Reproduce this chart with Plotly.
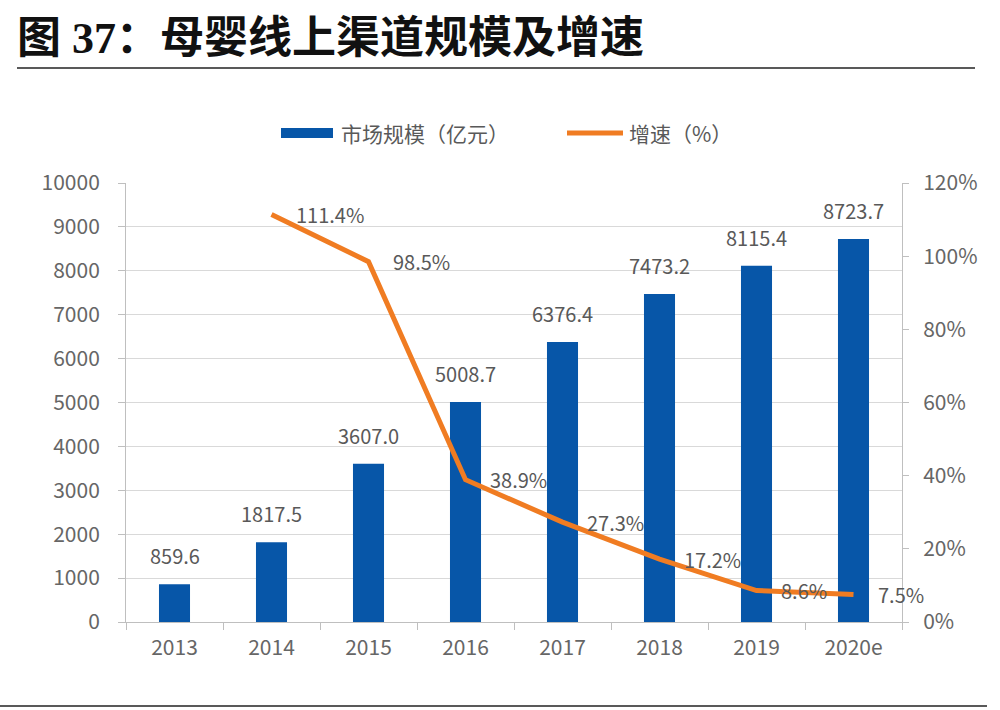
import plotly.graph_objects as go

years = ["2013", "2014", "2015", "2016", "2017", "2018", "2019", "2020e"]
market_size = [859.6, 1817.5, 3607.0, 5008.7, 6376.4, 7473.2, 8115.4, 8723.7]
growth = [None, 111.4, 98.5, 38.9, 27.3, 17.2, 8.6, 7.5]
size_labels = ["859.6", "1817.5", "3607.0", "5008.7", "6376.4", "7473.2", "8115.4", "8723.7"]
growth_labels = [None, "111.4%", "98.5%", "38.9%", "27.3%", "17.2%", "8.6%", "7.5%"]
left_ticks = list(range(0, 10001, 1000))
right_ticks = list(range(0, 121, 20))
right_tick_text = [f"{v}%" for v in right_ticks]

title_text = "图 37：母婴线上渠道规模及增速"
legend_bar = "市场规模（亿元）"
legend_line = "增速（%）"

BLUE = "#0756A8"
ORANGE = "#F07C22"
GRAY_TEXT = "#666666"
LABEL_TEXT = "#595959"
FONT = "Noto Sans CJK SC"

W, H = 1000, 710
L, R, T, B = 126, 902, 183, 622

idx = list(range(len(years)))
boundaries = [i - 0.5 for i in range(len(years) + 1)]


def px(x):
    return (x - L) / (R - L)


def py(y):
    return (B - y) / (B - T)


fig = go.Figure()
fig.add_trace(go.Bar(
    x=idx, y=market_size, marker=dict(color=BLUE, line=dict(width=0)),
    width=0.32, showlegend=False, hoverinfo="skip", yaxis="y"))
fig.add_trace(go.Scatter(
    x=idx, y=growth, mode="lines", line=dict(color=ORANGE, width=5),
    showlegend=False, yaxis="y2", connectgaps=False, hoverinfo="skip"))

annotations = []
for i, v, t in zip(idx, market_size, size_labels):
    annotations.append(dict(x=i, y=v, xref="x", yref="y", text=t, showarrow=False,
                            yanchor="bottom", xanchor="center", yshift=12,
                            font=dict(family=FONT, size=20, color=LABEL_TEXT)))
for i, v, t in zip(idx, growth, growth_labels):
    if v is None:
        continue
    annotations.append(dict(x=i, y=v, xref="x", yref="y2", text=t, showarrow=False,
                            yanchor="middle", xanchor="left", xshift=22,
                            font=dict(family=FONT, size=20, color=LABEL_TEXT)))

# title
annotations.append(dict(x=px(15), y=py(38), xref="paper", yref="paper", text=title_text,
                        showarrow=False, xanchor="left", yanchor="middle",
                        font=dict(family="Liberation Serif, Noto Sans CJK SC", size=44,
                                  color="#111111", weight="bold")))
# legend texts
annotations.append(dict(x=px(339), y=py(133), xref="paper", yref="paper", text=legend_bar,
                        showarrow=False, xanchor="left", yanchor="middle",
                        font=dict(family=FONT, size=21, color=LABEL_TEXT)))
annotations.append(dict(x=px(627), y=py(133), xref="paper", yref="paper", text=legend_line,
                        showarrow=False, xanchor="left", yanchor="middle",
                        font=dict(family=FONT, size=21, color=LABEL_TEXT)))

shapes = [
    dict(type="line", xref="paper", yref="paper", x0=px(17), x1=px(975), y0=py(68), y1=py(68),
         line=dict(color="#222222", width=1.5)),
    dict(type="line", xref="paper", yref="paper", x0=px(0), x1=px(987), y0=py(706), y1=py(706),
         line=dict(color="#222222", width=1.5)),
    dict(type="rect", xref="paper", yref="paper", x0=px(281), x1=px(333), y0=py(128), y1=py(138),
         fillcolor=BLUE, line=dict(width=0)),
    dict(type="line", xref="paper", yref="paper", x0=px(567), x1=px(623), y0=py(133), y1=py(133),
         line=dict(color=ORANGE, width=5)),
]

fig.update_layout(
    width=W, height=H,
    margin=dict(l=L, r=W - R, t=T, b=H - B, pad=0),
    paper_bgcolor="white", plot_bgcolor="white",
    annotations=annotations, shapes=shapes,
    xaxis=dict(range=[-0.5, len(years) - 0.5], autorange=False, tickvals=idx, ticktext=years,
               showline=True, linecolor="#BFBFBF", linewidth=1, ticks="", showgrid=False,
               zeroline=False,
               minor=dict(tickvals=boundaries, ticks="outside", ticklen=7, tickcolor="#BFBFBF",
                          showgrid=False),
               tickfont=dict(family=FONT, size=21, color=GRAY_TEXT), ticklabelstandoff=7),
    yaxis=dict(range=[0, 10000], autorange=False, tickvals=left_ticks, tickformat="d",
               showgrid=True, gridcolor="#D9D9D9",
               gridwidth=1, showline=True, linecolor="#BFBFBF", linewidth=1,
               ticks="outside", ticklen=7, tickcolor="#BFBFBF", zeroline=False,
               tickfont=dict(family=FONT, size=21, color=GRAY_TEXT), ticklabelstandoff=14),
    yaxis2=dict(range=[0, 120], autorange=False, overlaying="y", side="right",
                tickvals=right_ticks, ticktext=right_tick_text, showgrid=False, showline=True,
                linecolor="#BFBFBF", linewidth=1, ticks="outside", ticklen=6,
                tickcolor="#BFBFBF", zeroline=False,
                tickfont=dict(family=FONT, size=21, color=GRAY_TEXT), ticklabelstandoff=10),
    font=dict(family=FONT),
)

fig.write_html("out.html")
